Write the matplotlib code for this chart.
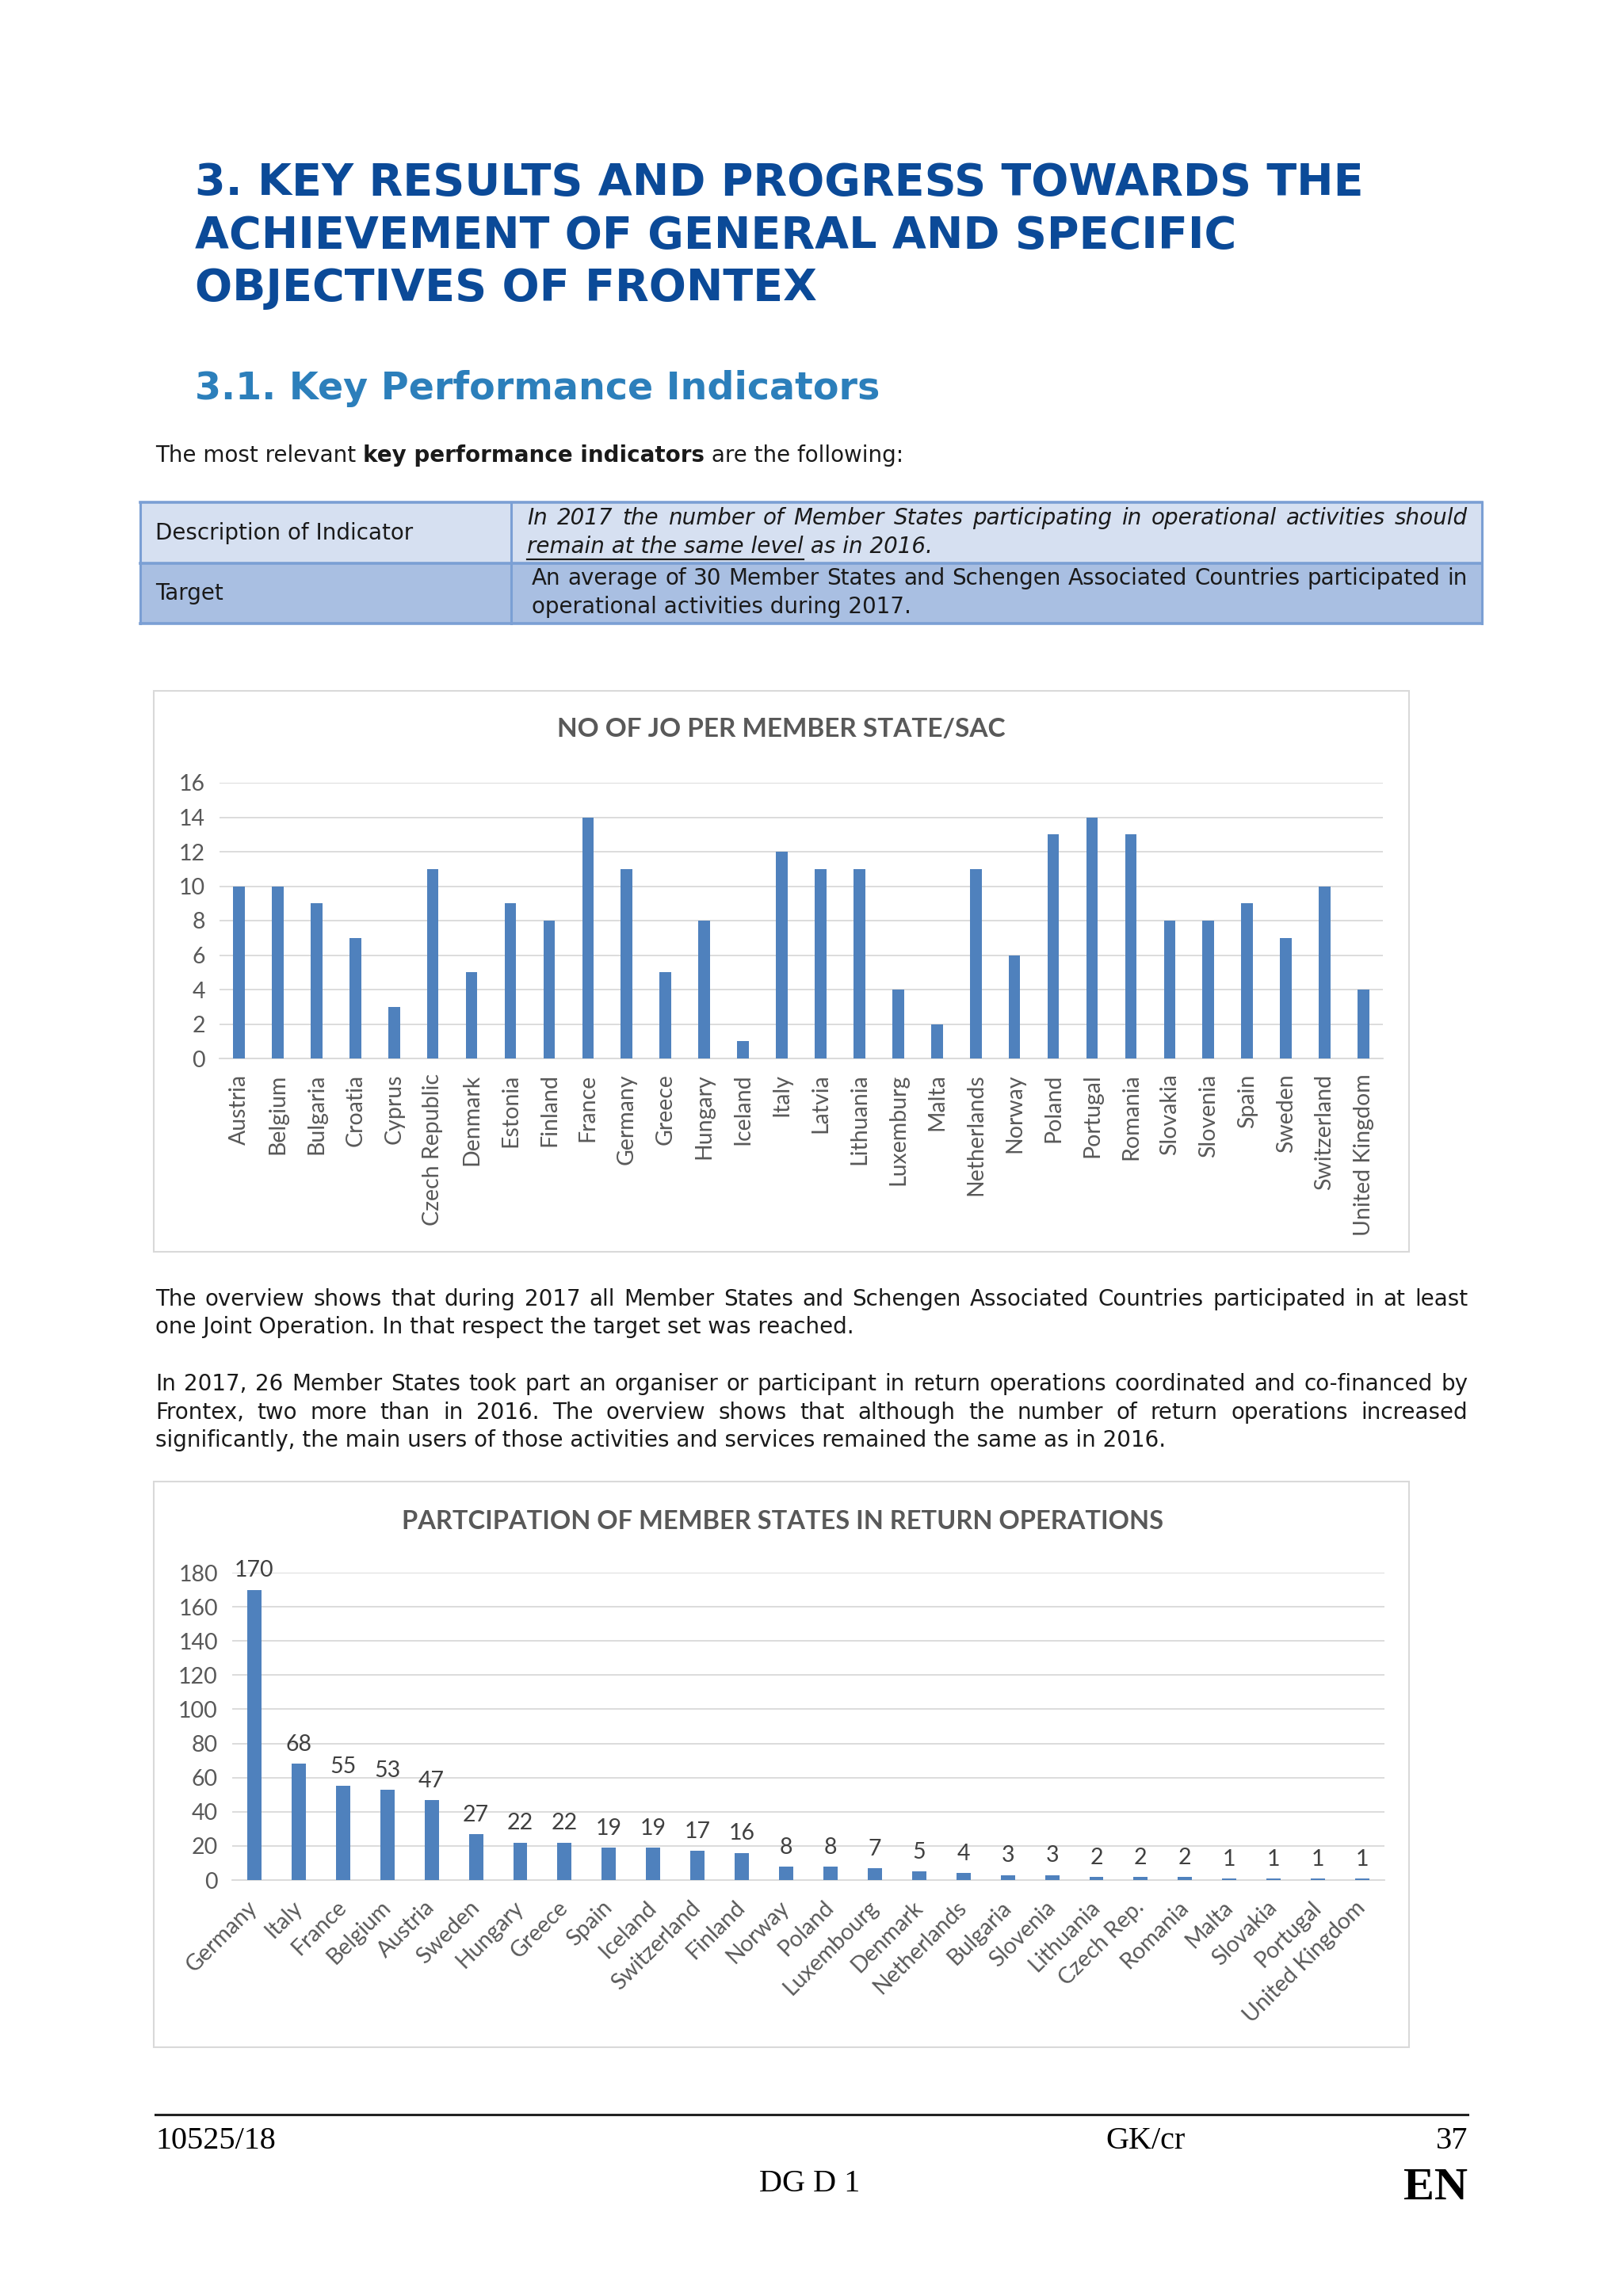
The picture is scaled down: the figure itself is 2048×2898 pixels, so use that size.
#!/usr/bin/env python3
"""
Frontex report page 37 - key performance indicators with two bar charts
"""

import matplotlib
matplotlib.use('Agg')
import matplotlib.pyplot as plt
from matplotlib.patches import Rectangle

W, H = 2048, 2898

# Chart 1: number of joint operations per member state / SAC
jo_countries = ['Austria', 'Belgium', 'Bulgaria', 'Croatia', 'Cyprus', 'Czech Republic',
                'Denmark', 'Estonia', 'Finland', 'France', 'Germany', 'Greece', 'Hungary',
                'Iceland', 'Italy', 'Latvia', 'Lithuania', 'Luxemburg', 'Malta', 'Netherlands',
                'Norway', 'Poland', 'Portugal', 'Romania', 'Slovakia', 'Slovenia', 'Spain',
                'Sweden', 'Switzerland', 'United Kingdom']
jo_values = [10, 10, 9, 7, 3, 11, 5, 9, 8, 14, 11, 5, 8, 1, 12, 11, 11, 4, 2, 11,
             6, 13, 14, 13, 8, 8, 9, 7, 10, 4]
jo_yticks = [0, 2, 4, 6, 8, 10, 12, 14, 16]

# Chart 2: participation in return operations
ro_countries = ['Germany', 'Italy', 'France', 'Belgium', 'Austria', 'Sweden', 'Hungary',
                'Greece', 'Spain', 'Iceland', 'Switzerland', 'Finland', 'Norway', 'Poland',
                'Luxembourg', 'Denmark', 'Netherlands', 'Bulgaria', 'Slovenia', 'Lithuania',
                'Czech Rep.', 'Romania', 'Malta', 'Slovakia', 'Portugal', 'United Kingdom']
ro_values = [170, 68, 55, 53, 47, 27, 22, 22, 19, 19, 17, 16, 8, 8, 7, 5, 4, 3, 3, 2,
             2, 2, 1, 1, 1, 1]
ro_yticks = [0, 20, 40, 60, 80, 100, 120, 140, 160, 180]

BAR = '#4f81bd'
GRID = '#d9d9d9'
TICK = '#595959'
HEAD = '#0b4a98'
SUBHEAD = '#2c7fbb'
TEXT = '#1a1a1a'
BODY = dict(family='DejaVu Sans', fontsize=20, color=TEXT)
CHARTFONT = 'Lato'
TICKSIZE = 20.5

fig = plt.figure(figsize=(W / 100, H / 100), dpi=100)
page = fig.add_axes([0, 0, 1, 1])
page.set_xlim(0, W)
page.set_ylim(H, 0)
page.axis('off')
renderer = fig.canvas.get_renderer()


def measure(s, **kw):
    t = page.text(0, 0, s, **kw)
    w = t.get_window_extent(renderer).width
    t.remove()
    return w


def justify(line, x0, x1, y, **kw):
    words = line.split()
    widths = [measure(w, **kw) for w in words]
    gap = (x1 - x0 - sum(widths)) / max(len(words) - 1, 1)
    x = x0
    for w, wd in zip(words, widths):
        page.text(x, y, w, ha='left', va='center', **kw)
        x += wd + gap


def runs(pieces, x, y):
    # pieces: list of (text, extra kwargs)
    for s, extra in pieces:
        kw = dict(BODY)
        kw.update(extra)
        page.text(x, y, s, ha='left', va='center', **kw)
        x += measure(s, **kw)
    return x


# headings
for y, line in zip([231, 298, 364], ['3. KEY RESULTS AND PROGRESS TOWARDS THE',
                                     'ACHIEVEMENT OF GENERAL AND SPECIFIC',
                                     'OBJECTIVES OF FRONTEX']):
    page.text(246, y, line, fontsize=40, fontweight='bold', color=HEAD,
              family='DejaVu Sans', va='center', ha='left')
page.text(246, 491, '3.1. Key Performance Indicators', fontsize=34.3, fontweight='bold',
          color=SUBHEAD, family='DejaVu Sans', va='center', ha='left')

runs([('The most relevant ', {}), ('key performance indicators', {'fontweight': 'bold'}),
      (' are the following:', {})], 196, 575)

# indicator table
t_left, t_mid, t_right = 177, 645, 1870
t_top, t_split, t_bot = 634, 711, 787
page.add_patch(Rectangle((t_left, t_top), t_right - t_left, t_split - t_top,
                         facecolor='#d6e0f1', edgecolor='none'))
page.add_patch(Rectangle((t_left, t_split), t_right - t_left, t_bot - t_split,
                         facecolor='#a9bfe2', edgecolor='none'))
for yy in [t_top, t_split, t_bot]:
    page.plot([t_left, t_right], [yy, yy], color='#7b9fd4', lw=2.6)
for xx in [t_left, t_mid, t_right]:
    page.plot([xx, xx], [t_top, t_bot], color='#7b9fd4', lw=2.2)

page.text(196, 673, 'Description of Indicator', ha='left', va='center', **BODY)
page.text(196, 749, 'Target', ha='left', va='center', **BODY)
ital = dict(BODY, style='italic')
justify('In 2017 the number of Member States participating in operational activities should',
        665, 1852, 654, **ital)
x_end = runs([('remain at the same level', {'style': 'italic'})], 665, 690)
page.plot([665, x_end], [706, 706], color=TEXT, lw=1.6)
runs([(' as in 2016.', {'style': 'italic'})], x_end, 690)
justify('An average of 30 Member States and Schengen Associated Countries participated in',
        671, 1852, 730, **BODY)
page.text(671, 766, 'operational activities during 2017.', ha='left', va='center', **BODY)

# paragraphs
justify('The overview shows that during 2017 all Member States and Schengen Associated '
        'Countries participated in at least', 196, 1852, 1640, **BODY)
page.text(196, 1675, 'one Joint Operation. In that respect the target set was reached.',
          ha='left', va='center', **BODY)
justify('In 2017, 26 Member States took part an organiser or participant in return operations '
        'coordinated and co-financed by', 196, 1852, 1747, **BODY)
justify('Frontex, two more than in 2016. The overview shows that although the number of '
        'return operations increased', 196, 1852, 1783, **BODY)
page.text(196, 1818, 'significantly, the main users of those activities and services '
          'remained the same as in 2016.', ha='left', va='center', **BODY)

# chart frames
for top, bot in [(872, 1580), (1870, 2584)]:
    page.add_patch(Rectangle((194, top), 1778 - 194, bot - top, facecolor='white',
                             edgecolor=GRID, lw=1.5))


def px_axes(x0, x1, y_top, y_bot):
    return fig.add_axes([x0 / W, 1 - y_bot / H, (x1 - x0) / W, (y_bot - y_top) / H])


def style_axes(ax, yticks):
    ax.set_facecolor('none')
    for s in ['top', 'right', 'left']:
        ax.spines[s].set_visible(False)
    ax.spines['bottom'].set_color(GRID)
    ax.spines['bottom'].set_linewidth(1.3)
    ax.set_yticks(yticks)
    ax.set_ylim(yticks[0], yticks[-1])
    ax.yaxis.grid(True, color=GRID, lw=1.3)
    ax.set_axisbelow(True)
    ax.tick_params(axis='both', length=0, labelcolor=TICK, labelsize=TICKSIZE)
    for lab in ax.get_yticklabels():
        lab.set_family(CHARTFONT)


# chart 1
ax1 = px_axes(277, 1745, 988, 1336)
x1 = range(len(jo_countries))
ax1.bar(x1, jo_values, width=0.3, color=BAR, zorder=3)
ax1.set_xlim(-0.5, len(jo_countries) - 0.5)
style_axes(ax1, jo_yticks)
ax1.tick_params(axis='y', pad=13)
ax1.tick_params(axis='x', pad=14)
ax1.set_xticks(list(x1))
ax1.set_xticklabels(jo_countries, rotation=90, va='top', ha='center', family=CHARTFONT)
page.text(986, 921, 'NO OF JO PER MEMBER STATE/SAC', ha='center', va='center',
          family=CHARTFONT, fontweight='bold', fontsize=24, color=TICK)

# chart 2
ax2 = px_axes(293, 1747, 1985, 2373)
x2 = range(len(ro_countries))
bars = ax2.bar(x2, ro_values, width=0.32, color=BAR, zorder=3)
ax2.set_xlim(-0.5, len(ro_countries) - 0.5)
style_axes(ax2, ro_yticks)
ax2.tick_params(axis='y', pad=13)
ax2.tick_params(axis='x', pad=22)
ax2.set_xticks(list(x2))
ax2.set_xticklabels(ro_countries, rotation=45, ha='right', va='center',
                    rotation_mode='anchor', family=CHARTFONT)
for rect, v in zip(bars, ro_values):
    ax2.annotate(str(v), (rect.get_x() + rect.get_width() / 2, v), xytext=(0, 8),
                 textcoords='offset points', ha='center', va='bottom',
                 family=CHARTFONT, fontsize=TICKSIZE, color='#404040')
page.text(988, 1921, 'PARTCIPATION OF MEMBER STATES IN RETURN OPERATIONS', ha='center',
          va='center', family=CHARTFONT, fontweight='bold', fontsize=23.5, color=TICK)

# footer
page.plot([196, 1852], [2669, 2669], color='#222222', lw=2.2)
FOOT = dict(family='Liberation Serif', fontsize=29, color='black', va='center')
page.text(196, 2702, '10525/18', ha='left', **FOOT)
page.text(1446, 2702, 'GK/cr', ha='center', **FOOT)
page.text(1852, 2702, '37', ha='right', **FOOT)
page.text(1022, 2756, 'DG D 1', ha='center', **FOOT)
page.text(1852, 2762, 'EN', ha='right', family='Liberation Serif', fontsize=42,
          fontweight='bold', va='center')

fig.savefig('out.png', dpi=100, facecolor='white')
